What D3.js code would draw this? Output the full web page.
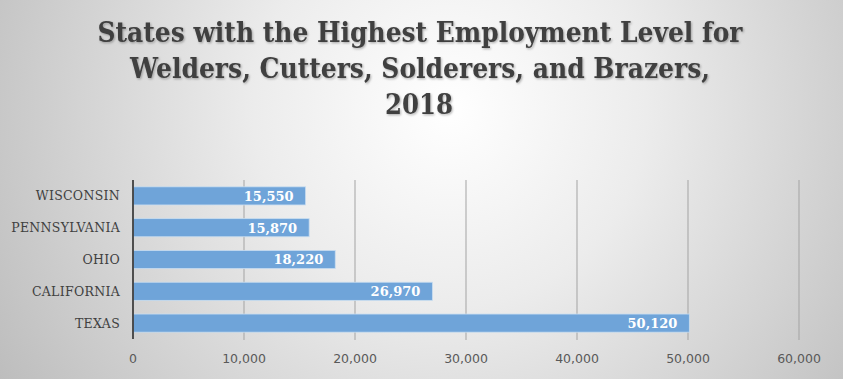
<!DOCTYPE html>
<html><head><meta charset="utf-8">
<script src="https://cdn.jsdelivr.net/npm/d3@7"></script>
<style>html,body{margin:0;padding:0;overflow:hidden;}svg{display:block;}</style>
</head><body>
<script>
const categories = ["WISCONSIN","PENNSYLVANIA","OHIO","CALIFORNIA","TEXAS"];
const values = [15550, 15870, 18220, 26970, 50120];
const tickValues = [0,10000,20000,30000,40000,50000,60000];
const titleLines = ["States with the Highest Employment Level for","Welders, Cutters, Solderers, and Brazers,","2018"];

const W = 843, H = 379;
const svg = d3.select("body").append("svg").attr("width", W).attr("height", H);
const defs = svg.append("defs");
const grad = defs.append("radialGradient").attr("id","bg")
  .attr("gradientUnits","userSpaceOnUse").attr("cx",450).attr("cy",110).attr("r",560);
grad.append("stop").attr("offset","0").attr("stop-color","#ffffff");
grad.append("stop").attr("offset","0.35").attr("stop-color","#ececec");
grad.append("stop").attr("offset","1").attr("stop-color","#b8b8b8");
svg.append("rect").attr("width",W).attr("height",H).attr("fill","url(#bg)");

const f = defs.append("filter").attr("id","sh").attr("x","-5%").attr("y","-20%").attr("width","110%").attr("height","140%");
f.append("feDropShadow").attr("dx",1).attr("dy",1.2).attr("stdDeviation",0.8).attr("flood-color","#000").attr("flood-opacity",0.3);

const x = d3.scaleLinear().domain([0,60000]).range([133,799]);
const y = d3.scaleBand().domain(categories).range([180,339]).paddingInner(0.43).paddingOuter(0.215);

// gridlines
svg.append("g").selectAll("line").data(tickValues.slice(1)).join("line")
  .attr("x1",d=>x(d)).attr("x2",d=>x(d)).attr("y1",180).attr("y2",340)
  .attr("stroke","#a3a3a3").attr("stroke-width",1);

// bars
svg.append("g").selectAll("rect").data(values).join("rect")
  .attr("x",x(0)).attr("y",(d,i)=>y(categories[i]))
  .attr("width",d=>x(d)-x(0)).attr("height",y.bandwidth())
  .attr("fill","#6fa4d9").attr("stroke","#c9ddf0").attr("stroke-width",0.8);

// value labels
svg.append("g").selectAll("text").data(values).join("text")
  .attr("x",d=>x(d)-12).attr("y",(d,i)=>y(categories[i])+y.bandwidth()/2)
  .attr("dy","0.38em").attr("text-anchor","end")
  .attr("font-family","'DejaVu Serif', serif").attr("font-weight","bold").attr("font-size",13)
  .attr("fill","#ffffff").text(d=>d3.format(",")(d));

// axis line
svg.append("line").attr("x1",133).attr("x2",133).attr("y1",180).attr("y2",339)
  .attr("stroke","#404040").attr("stroke-width",1.8);

// y axis labels
svg.append("g").selectAll("text").data(categories).join("text")
  .attr("x",120).attr("y",d=>y(d)+y.bandwidth()/2).attr("dy","0.36em")
  .attr("text-anchor","end").attr("font-family","'DejaVu Serif', serif").attr("font-size",12.5)
  .attr("letter-spacing",0.3).attr("fill","#404040").text(d=>d);

// x tick labels
svg.append("g").selectAll("text").data(tickValues).join("text")
  .attr("x",d=>x(d)).attr("y",363).attr("text-anchor","middle")
  .attr("font-family","'DejaVu Sans', sans-serif").attr("font-size",12.5)
  .attr("fill","#595959").text(d=>d3.format(",")(d));

// title
const tg = svg.append("g").attr("filter","url(#sh)");
const tY = [42, 78, 114];
const tW = [645, 580, 68];
tg.selectAll("text").data(titleLines).join("text")
  .attr("x",(d,i)=>i===2?419:420).attr("y",(d,i)=>tY[i]).attr("text-anchor","middle")
  .attr("font-family","'DejaVu Serif', serif").attr("font-weight","bold").attr("font-size",27.5)
  .attr("fill","#404040")
  .attr("textLength",(d,i)=>tW[i]).attr("lengthAdjust","spacingAndGlyphs")
  .text(d=>d);
</script>
</body></html>
